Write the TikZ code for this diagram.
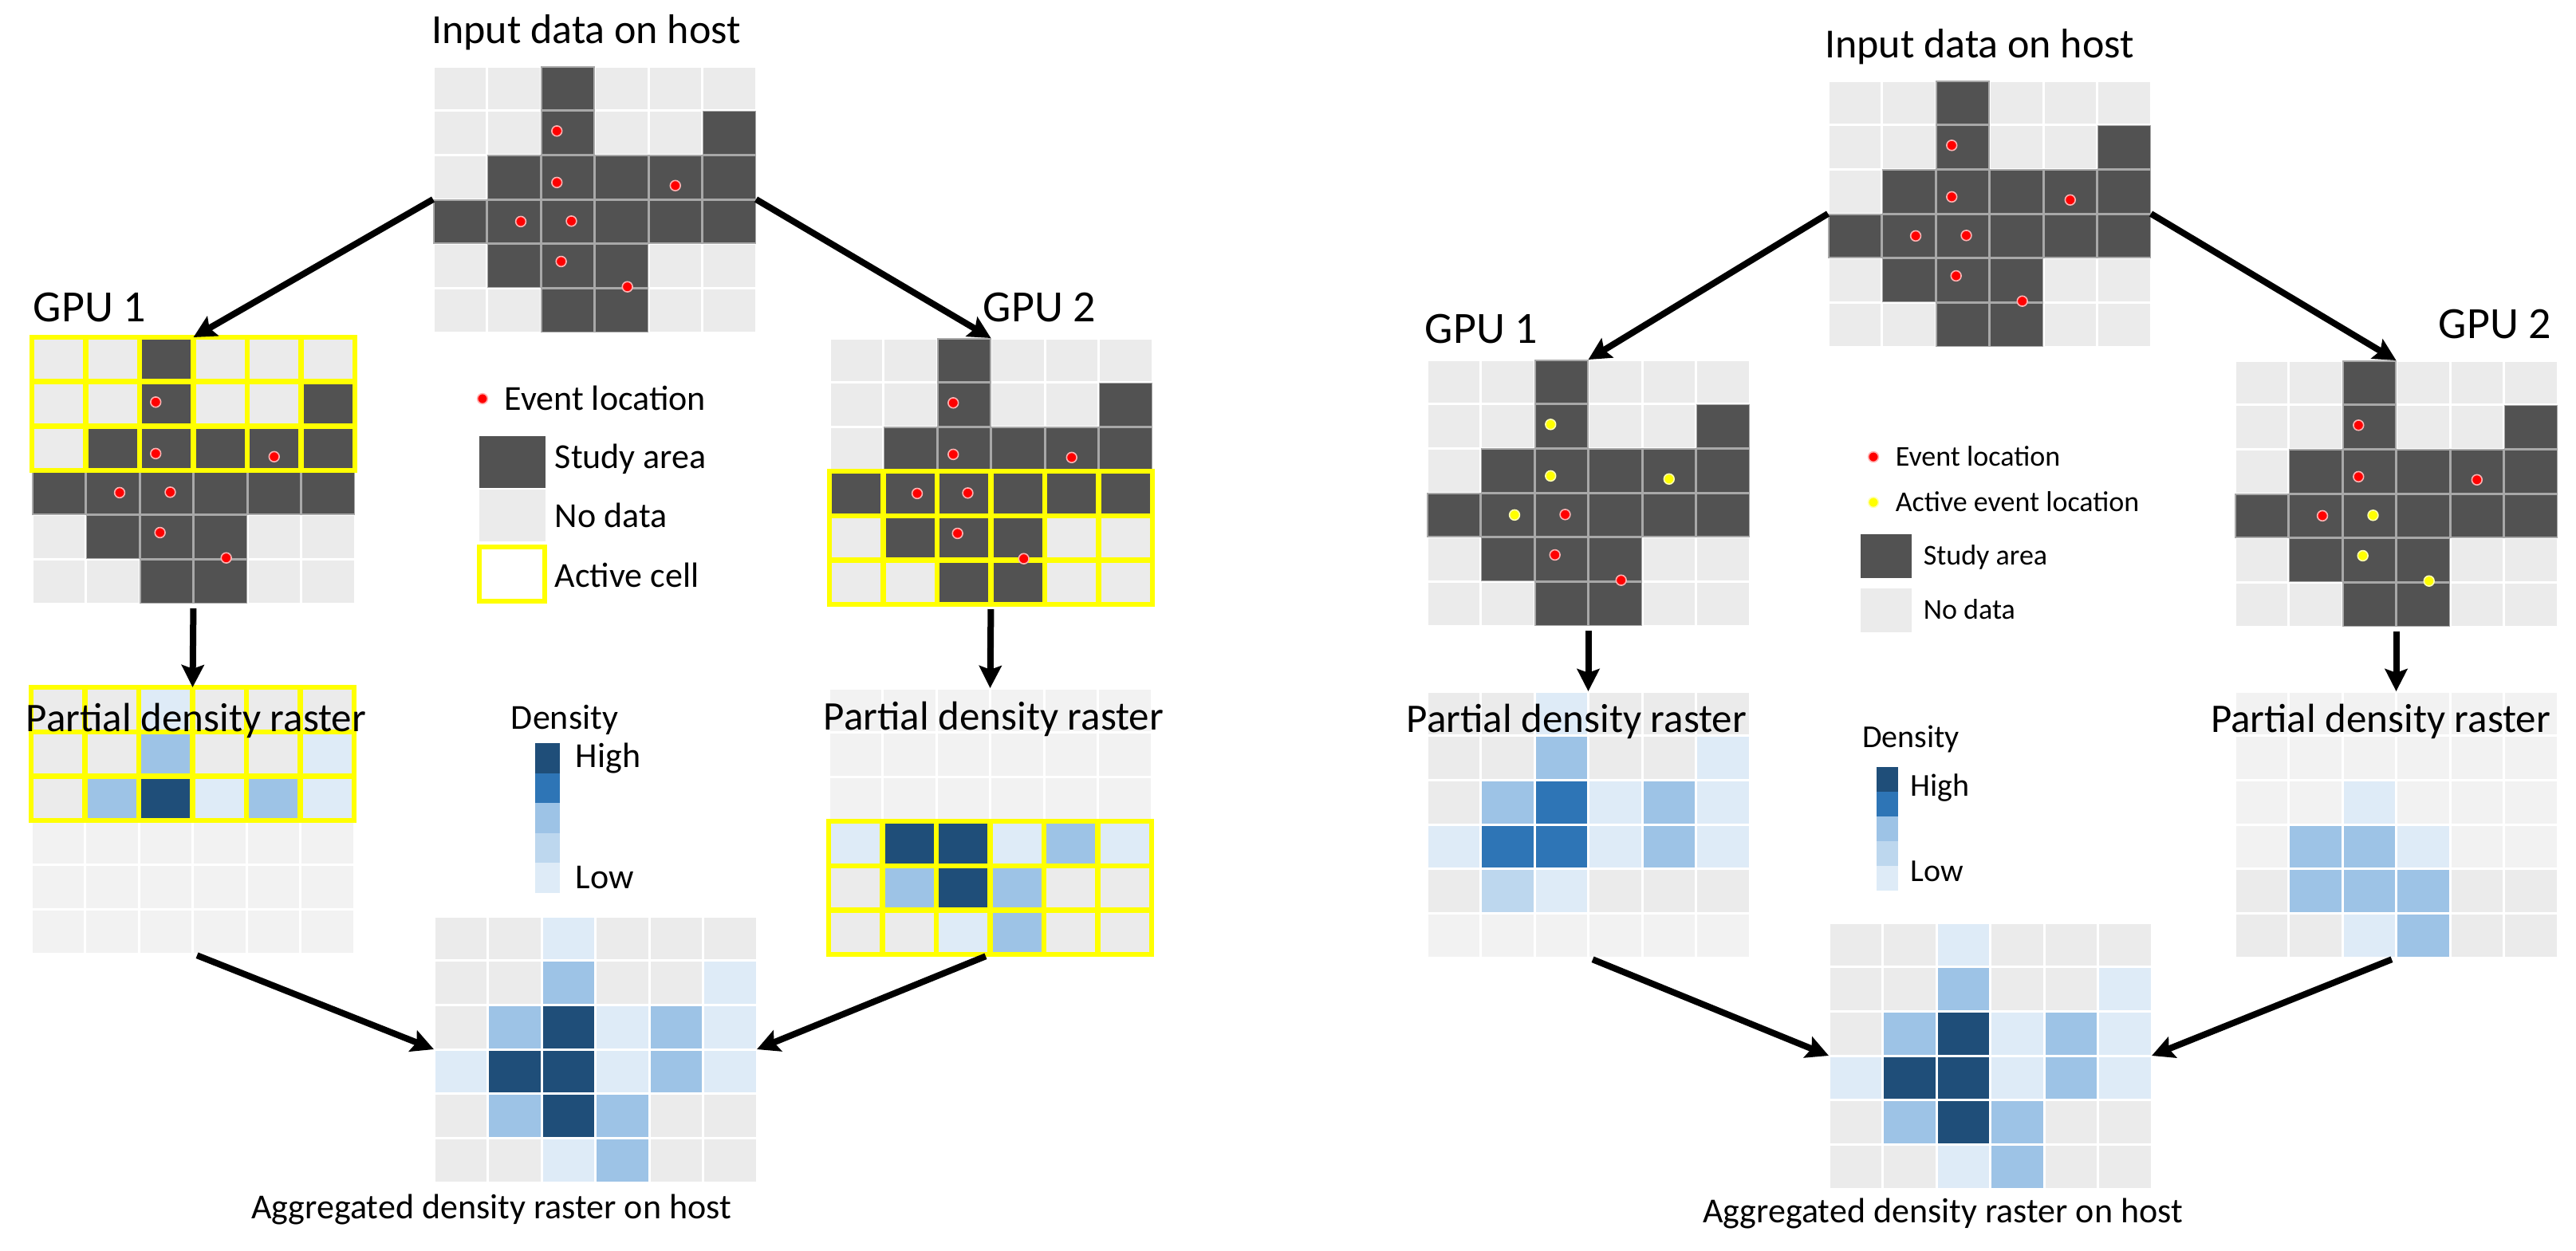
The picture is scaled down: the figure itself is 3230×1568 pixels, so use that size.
\documentclass[tikz,border=0pt]{standalone}
\usepackage{fontspec}
\setmainfont{Carlito}
\usetikzlibrary{arrows.meta}
\definecolor{c0}{HTML}{EBEBEB}
\definecolor{c1}{HTML}{525252}
\definecolor{c2}{HTML}{DEEBF7}
\definecolor{c3}{HTML}{BDD7EE}
\definecolor{c4}{HTML}{9DC3E6}
\definecolor{c5}{HTML}{2E75B6}
\definecolor{c6}{HTML}{1F4E79}
\definecolor{c7}{HTML}{F2F2F2}
\definecolor{gapgrey}{HTML}{A8A8A8}
\definecolor{actyellow}{HTML}{FFFF00}
\definecolor{evred}{HTML}{FF0000}
\definecolor{evyel}{HTML}{FFFF00}

% #2 must be a macro holding the list of rows
\newcommand\rasterat[2]{%
 \begin{scope}[shift={(#1.north west)}]
  \foreach \rw [count=\ri] in #2 {
    \foreach \v [count=\ci] in \rw {
      \ifnum\v=1 \fill[gapgrey] ({(\ci-1)*67.5},{(\ri-1)*55.67}) rectangle +(67.5,55.67);\fi
    }
  }
  \foreach \rw [count=\ri] in #2 {
    \foreach \v [count=\ci] in \rw {
      \fill[c\v] ({(\ci-1)*67.5+1.5},{(\ri-1)*55.67+1.5}) rectangle +(64.5,52.67);
    }
  }
 \end{scope}}

\newcommand\activerows[2]{%
 \begin{scope}[shift={(#1.north west)}]
  \foreach \r in {#2} {\foreach \c in {1,...,6} {
    \draw[actyellow, line width=1.6pt] ({(\c-1)*67.5},{(\r-1)*55.67}) rectangle +(67.5,55.67);}}
 \end{scope}}

\newcommand\dotsat[2]{%
 \begin{scope}[shift={(#1.north west)}]
  \foreach \dcol/\dx/\dy in {#2}
    \filldraw[fill=\dcol, draw=white!70!\dcol, line width=0.4pt] ({\dx*67.5},{\dy*55.67}) circle (1.6pt);
 \end{scope}}

\newcommand\studyrows{{0,0,1,0,0,0},{0,0,1,0,0,1},{0,1,1,1,1,1},{1,1,1,1,1,1},{0,1,1,1,0,0},{0,0,1,1,0,0}}
\newcommand\aggrows{{0,0,2,0,0,0},{0,0,4,0,0,2},{0,4,6,2,4,2},{2,6,6,2,4,2},{0,4,6,4,0,0},{0,0,2,4,0,0}}
\newcommand\partLa{{0,0,2,0,0,0},{0,0,4,0,0,2},{0,4,6,2,4,2},{7,7,7,7,7,7},{7,7,7,7,7,7},{7,7,7,7,7,7}}
\newcommand\partLb{{7,7,7,7,7,7},{7,7,7,7,7,7},{7,7,7,7,7,7},{2,6,6,2,4,2},{0,4,6,4,0,0},{0,0,2,4,0,0}}
\newcommand\partRa{{0,0,2,0,0,0},{0,0,4,0,0,2},{0,4,5,2,4,2},{2,5,5,2,4,2},{0,3,2,0,0,0},{7,7,7,7,7,7}}
\newcommand\partRb{{7,7,7,7,7,7},{7,7,7,7,7,7},{7,7,2,7,7,7},{7,4,4,2,7,7},{0,4,4,4,0,0},{0,0,2,4,0,0}}

\begin{document}
\begin{tikzpicture}[x=0.25pt,y=-0.25pt,
  gridnode/.style={inner sep=0pt, outer sep=0pt, minimum width=101.25pt, minimum height=83.5pt, anchor=north west},
  arr/.style={-{Stealth[length=7pt,width=7pt,inset=1.2pt]}, line width=2pt},
  ttl/.style={font=\fontsize{13}{15}\selectfont, anchor=base, inner sep=0pt},
  gpu/.style={font=\fontsize{14}{16}\selectfont, anchor=base west, inner sep=0pt},
  part/.style={font=\fontsize{12.75}{15}\selectfont, anchor=base, inner sep=0pt},
  agg/.style={font=\fontsize{11}{13}\selectfont, anchor=base, inner sep=0pt},
  lgL/.style={font=\fontsize{11}{13}\selectfont, anchor=base west, inner sep=0pt},
  lgR/.style={font=\fontsize{9}{11}\selectfont, anchor=base west, inner sep=0pt},
  dens/.style={font=\fontsize{11}{13}\selectfont, anchor=base, inner sep=0pt},
  hilo/.style={font=\fontsize{11}{13}\selectfont, anchor=base west, inner sep=0pt},
  evdot/.style={circle, inner sep=0pt, minimum size=3.2pt, line width=0.4pt},
  lgsq/.style={rectangle, inner sep=0pt, minimum width=20.75pt, minimum height=16.25pt}
]
\useasboundingbox (0,0) rectangle (3230,1568);

% ---------- grid nodes ----------
\node[gridnode] (inL)  at (543,83) {};
\node[gridnode] (g1L)  at (40,423) {};
\node[gridnode] (g2L)  at (1040,424) {};
\node[gridnode] (p1L)  at (39,862) {};
\node[gridnode] (p2L)  at (1039,863) {};
\node[gridnode] (aggL) at (544,1149) {};

\node[gridnode] (inR)  at (2292,101) {};
\node[gridnode] (g1R)  at (1789,451) {};
\node[gridnode] (g2R)  at (2802,452) {};
\node[gridnode] (p1R)  at (1789,867) {};
\node[gridnode] (p2R)  at (2802,867) {};
\node[gridnode] (aggR) at (2293,1157) {};

% ---------- rasters ----------
\rasterat{inL}{\studyrows}
\rasterat{g1L}{\studyrows}
\rasterat{g2L}{\studyrows}
\rasterat{p1L}{\partLa}
\rasterat{p2L}{\partLb}
\rasterat{aggL}{\aggrows}

\rasterat{inR}{\studyrows}
\rasterat{g1R}{\studyrows}
\rasterat{g2R}{\studyrows}
\rasterat{p1R}{\partRa}
\rasterat{p2R}{\partRb}
\rasterat{aggR}{\aggrows}

% ---------- active cells ----------
\activerows{g1L}{1,2,3}
\activerows{g2L}{4,5,6}
\activerows{p1L}{1,2,3}
\activerows{p2L}{4,5,6}

% ---------- events ----------
\dotsat{inL}{evred/2.3/1.46,evred/2.3/2.62,evred/4.5/2.69,evred/1.63/3.5,evred/2.57/3.49,evred/2.38/4.4,evred/3.61/4.97}
\dotsat{g1L}{evred/2.3/1.46,evred/2.3/2.62,evred/4.5/2.69,evred/1.63/3.5,evred/2.57/3.49,evred/2.38/4.4,evred/3.61/4.97}
\dotsat{g2L}{evred/2.3/1.46,evred/2.3/2.62,evred/4.5/2.69,evred/1.63/3.5,evred/2.57/3.49,evred/2.38/4.4,evred/3.61/4.97}
\dotsat{inR}{evred/2.3/1.46,evred/2.3/2.62,evred/4.5/2.69,evred/1.63/3.5,evred/2.57/3.49,evred/2.38/4.4,evred/3.61/4.97}
\dotsat{g1R}{evyel/2.3/1.46,evyel/2.3/2.62,evyel/4.5/2.69,evyel/1.63/3.5,evred/2.57/3.49,evred/2.38/4.4,evred/3.61/4.97}
\dotsat{g2R}{evred/2.3/1.46,evred/2.3/2.62,evred/4.5/2.69,evred/1.63/3.5,evyel/2.57/3.49,evyel/2.38/4.4,evyel/3.61/4.97}

% ---------- arrows ----------
\draw[arr] (inL.west) -- (g1L.north);
\draw[arr] (inL.east) -- (g2L.north);
\draw[arr, shorten <=1.5pt] (g1L.south) -- (p1L.north);
\draw[arr, shorten <=1.5pt] (g2L.south) -- (p2L.north);
\draw[arr, shorten <=1.5pt] (p1L.south) -- (aggL.west);
\draw[arr, shorten <=1.5pt] (p2L.south) -- (aggL.east);

\draw[arr] (inR.west) -- (g1R.north);
\draw[arr] (inR.east) -- (g2R.north);
\draw[arr, shorten <=1.5pt] (g1R.south) -- (p1R.north);
\draw[arr, shorten <=1.5pt] (g2R.south) -- (p2R.north);
\draw[arr, shorten <=1.5pt] (p1R.south) -- (aggR.west);
\draw[arr, shorten <=1.5pt] (p2R.south) -- (aggR.east);

% ---------- texts ----------
\node[ttl] (tInL) at (735,54) {Input data on host};
\node[ttl] (tInR) at (2482,72) {Input data on host};
\node[gpu] (tG1L) at (41,403) {GPU 1};
\node[gpu] (tG2L) at (1232,403) {GPU 2};
\node[gpu] (tG1R) at (1786,430) {GPU 1};
\node[gpu] (tG2R) at (3057,424) {GPU 2};
\node[part] (tP1L) at (246,917) {Partial density raster};
\node[part] (tP2L) at (1246,915) {Partial density raster};
\node[part] (tP1R) at (1977,918) {Partial density raster};
\node[part] (tP2R) at (2985,918) {Partial density raster};
\node[agg] (tAL) at (616,1528) {Aggregated density raster on host};
\node[agg] (tAR) at (2436,1533) {Aggregated density raster on host};

% ---------- legend left ----------
\node[evdot, fill=evred, draw=white!70!evred] (lDotL) at (605,500) {};
\node[lgL] (lEvL) at (632,514) {Event location};
\node[lgsq, fill=c1] (lSqStL) at (642.5,579.5) {};
\node[lgL] (lStL) at (695,587) {Study area};
\node[lgsq, fill=c0] (lSqNdL) at (642.5,646.5) {};
\node[lgL] (lNdL) at (695,661) {No data};
\node[lgsq, draw=actyellow, line width=1.6pt, minimum width=20.5pt, minimum height=17pt] (lSqAcL) at (642,720) {};
\node[lgL] (lAcL) at (695,736) {Active cell};

\node[dens] (dL) at (708,914) {Density};
\fill[c6] (671,932) rectangle (702,969.6);
\fill[c5] (671,969.6) rectangle (702,1007.2);
\fill[c4] (671,1007.2) rectangle (702,1044.8);
\fill[c3] (671,1044.8) rectangle (702,1082.4);
\fill[c2] (671,1082.4) rectangle (702,1120);
\node[hilo] (hL) at (721,962) {High};
\node[hilo] (loL) at (721,1114) {Low};

% ---------- legend right ----------
\node[evdot, fill=evred, draw=white!70!evred] (lDotR) at (2349,573) {};
\node[lgR] (lEvR) at (2376,584) {Event location};
\node[evdot, fill=evyel, draw=white!70!evyel] (lDotYR) at (2349,630) {};
\node[lgR] (lAeR) at (2376,641) {Active event location};
\node[lgsq, fill=c1, minimum width=16pt, minimum height=13.75pt] (lSqStR) at (2365,697) {};
\node[lgR] (lStR) at (2411,708) {Study area};
\node[lgsq, fill=c0, minimum width=16pt, minimum height=13.75pt] (lSqNdR) at (2365,765) {};
\node[lgR] (lNdR) at (2411,776) {No data};

\node[dens, font=\fontsize{10}{12}\selectfont] (dR) at (2396,937) {Density};
\fill[c6] (2353,962) rectangle (2380,993);
\fill[c5] (2353,993) rectangle (2380,1024);
\fill[c4] (2353,1024) rectangle (2380,1055);
\fill[c3] (2353,1055) rectangle (2380,1086);
\fill[c2] (2353,1086) rectangle (2380,1117);
\node[hilo, font=\fontsize{10}{12}\selectfont] (hR) at (2395,998) {High};
\node[hilo, font=\fontsize{10}{12}\selectfont] (loR) at (2395,1105) {Low};
\end{tikzpicture}
\end{document}
